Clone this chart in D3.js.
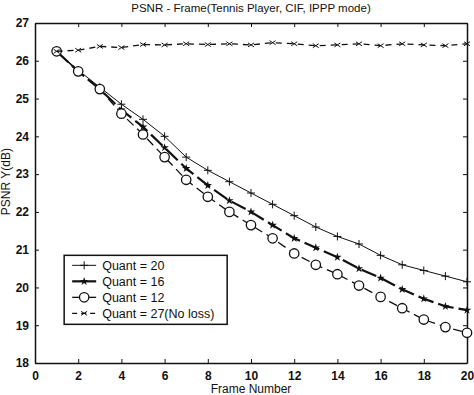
<!DOCTYPE html>
<html>
<head>
<meta charset="utf-8">
<script src="https://cdn.jsdelivr.net/npm/d3@7"></script>
<style>
  body { margin: 0; background: #fff; }
  text { font-family: "Liberation Sans", Arial, sans-serif; fill: #111; }
</style>
</head>
<body>
<div id="chart"></div>
<script>
var frames = d3.range(1, 21);
var quant20 = [26.25, 25.75, 25.3, 24.85, 24.45, 24.0, 23.45, 23.1, 22.8, 22.5, 22.2, 21.9, 21.6, 21.35, 21.15, 20.85, 20.6, 20.45, 20.3, 20.15];
var quant16 = [26.25, 25.72, 25.25, 24.7, 24.25, 23.7, 23.15, 22.7, 22.3, 22.0, 21.65, 21.3, 21.05, 20.8, 20.5, 20.25, 19.95, 19.7, 19.5, 19.4];
var quant12 = [26.25, 25.72, 25.25, 24.6, 24.05, 23.45, 22.85, 22.4, 22.0, 21.65, 21.3, 20.9, 20.6, 20.35, 20.05, 19.75, 19.45, 19.15, 18.95, 18.8];
var quant27 = [26.25, 26.28, 26.38, 26.35, 26.43, 26.42, 26.45, 26.43, 26.45, 26.42, 26.48, 26.45, 26.4, 26.42, 26.45, 26.4, 26.45, 26.42, 26.4, 26.45];
var legendLabels = ["Quant = 20", "Quant = 16", "Quant = 12", "Quant = 27(No loss)"];
var xTicks = [0, 2, 4, 6, 8, 10, 12, 14, 16, 18, 20];
var yTicks = [18, 19, 20, 21, 22, 23, 24, 25, 26, 27];

var margin = {top: 23, right: 7, bottom: 32, left: 35},
    width = 474 - margin.left - margin.right,
    height = 395 - margin.top - margin.bottom;

var svg = d3.select("#chart")
  .append("svg")
    .attr("width", 474)
    .attr("height", 395)
  .append("g")
    .attr("transform", "translate(" + margin.left + "," + margin.top + ")");

var x = d3.scaleLinear().domain([0, 20]).range([0, width]);
var y = d3.scaleLinear().domain([18, 27]).range([height, 0]);

// axes, ticks pointing inward
function styleAxis(g) {
  g.select(".domain").attr("stroke", "#111").attr("stroke-width", 1.5);
  g.selectAll(".tick line").attr("stroke", "#111");
  g.selectAll(".tick text").style("font-size", "12px").style("font-weight", "bold");
}
svg.append("g")
  .attr("transform", "translate(0," + height + ")")
  .call(d3.axisBottom(x).tickValues(xTicks).tickSizeInner(-4).tickSizeOuter(0).tickPadding(8))
  .call(styleAxis);
svg.append("g")
  .call(d3.axisTop(x).tickValues(xTicks).tickSizeInner(-4).tickSizeOuter(0).tickFormat(""))
  .call(styleAxis);
svg.append("g")
  .call(d3.axisLeft(y).tickValues(yTicks).tickSizeInner(-4).tickSizeOuter(0).tickPadding(6))
  .call(styleAxis);
svg.append("g")
  .attr("transform", "translate(" + width + ",0)")
  .call(d3.axisRight(y).tickValues(yTicks).tickSizeInner(-4).tickSizeOuter(0).tickFormat(""))
  .call(styleAxis);

var series = [
  {values: quant20, width: 1, dash: null, marker: "plus"},
  {values: quant16, width: 2.2, dash: "16,5", marker: "star"},
  {values: quant12, width: 1.3, dash: "9,5", marker: "circle"},
  {values: quant27, width: 1.3, dash: "6,5", marker: "cross"}
];

var line = d3.line()
  .x(function (d, i) { return x(frames[i]); })
  .y(function (d) { return y(d); });

function drawMarker(g, type, cx, cy) {
  if (type === "plus") {
    g.append("path").attr("d", "M" + (cx - 4) + "," + cy + "H" + (cx + 4) + "M" + cx + "," + (cy - 4) + "V" + (cy + 4))
      .attr("stroke", "#111").attr("stroke-width", 1);
  } else if (type === "star") {
    g.append("path")
      .attr("d", d3.symbol().type(d3.symbolStar).size(22))
      .attr("transform", "translate(" + cx + "," + cy + ")")
      .attr("fill", "#111");
  } else if (type === "circle") {
    g.append("circle").attr("cx", cx).attr("cy", cy).attr("r", 4.7)
      .attr("fill", "#fff").attr("stroke", "#111").attr("stroke-width", 1.3);
  } else {
    g.append("path").attr("d", "M" + (cx - 3) + "," + (cy - 2) + "L" + (cx + 3) + "," + (cy + 2) + "M" + (cx - 3) + "," + (cy + 2) + "L" + (cx + 3) + "," + (cy - 2))
      .attr("stroke", "#111").attr("stroke-width", 1);
  }
}

series.forEach(function (s) {
  svg.append("path")
    .datum(s.values)
    .attr("fill", "none")
    .attr("stroke", "#111")
    .attr("stroke-width", s.width)
    .attr("stroke-dasharray", s.dash)
    .attr("d", line);
  var mg = svg.append("g");
  s.values.forEach(function (v, i) { drawMarker(mg, s.marker, x(frames[i]), y(v)); });
});

// legend
var lg = svg.append("g").attr("transform", "translate(" + (x(1.35)) + "," + (y(20.85)) + ")");
lg.append("rect").attr("width", 163).attr("height", 69)
  .attr("fill", "#fff").attr("stroke", "#111").attr("stroke-width", 1.5);
legendLabels.forEach(function (lab, i) {
  var ry = 10 + i * 16;
  var s = series[i];
  lg.append("line").attr("x1", 8).attr("x2", 32).attr("y1", ry).attr("y2", ry)
    .attr("stroke", "#111").attr("stroke-width", s.width)
    .attr("stroke-dasharray", i === 3 ? "5,4" : null);
  drawMarker(lg, s.marker, 20, ry);
  lg.append("text").attr("x", 38).attr("y", ry + 4.5)
    .style("font-size", "12.5px").text(lab);
});

// title and labels
svg.append("text").attr("x", width / 2).attr("y", -11)
  .attr("text-anchor", "middle").style("font-size", "11.5px")
  .text("PSNR - Frame(Tennis Player, CIF, IPPP mode)");
svg.append("text").attr("x", width / 2).attr("y", height + 30)
  .attr("text-anchor", "middle").style("font-size", "12px")
  .text("Frame Number");
svg.append("text")
  .attr("transform", "translate(" + (-25) + "," + (y(22.8)) + ") rotate(-90)")
  .attr("text-anchor", "middle").style("font-size", "12px")
  .text("PSNR Y(dB)");
</script>
</body>
</html>
